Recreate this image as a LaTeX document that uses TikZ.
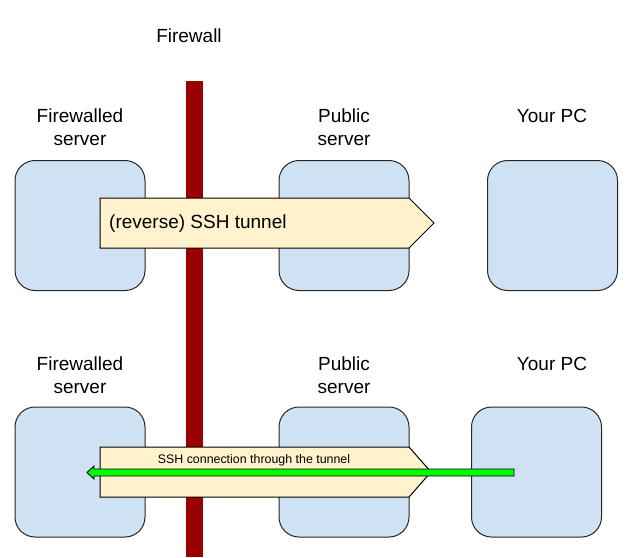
\documentclass[tikz,border=0pt]{standalone}
\usepackage{fontspec}
\setmainfont{Liberation Sans}
\usepackage[HTML]{xcolor}
\usetikzlibrary{positioning}
\definecolor{hostblue}{HTML}{CFE2F3}
\definecolor{tunnelcream}{HTML}{FFF2CC}
\definecolor{wallred}{HTML}{990000}
\definecolor{linkgreen}{HTML}{00FF00}

\begin{document}
\begin{tikzpicture}[x=1pt, y=-1pt,
  hostbox/.style={draw=black!85, fill=hostblue, rounded corners=20pt, line width=1pt, minimum width=130pt, minimum height=130pt, inner sep=0pt},
  hostlabel/.style={font=\fontsize{19}{23}\selectfont, align=center, inner sep=0pt},
  tunnelshape/.style={draw=black, fill=tunnelcream, line width=1pt},
  linkarrow/.style={draw=black, fill=linkgreen, line width=0.9pt, line join=miter}]

\useasboundingbox (0,0) rectangle (636,557);

% --- Firewall ---
\node[fill=wallred, minimum width=17pt, minimum height=476pt, inner sep=0pt] (wall) at (194.5,319) {};
\node[hostlabel] (walllabel) at (189,36) {Firewall};

% --- Top row: setting up the tunnel ---
\node[hostbox] (fwtop) at (80,225.5) {};
\node[hostbox] (pubtop) at (344,225.5) {};
\node[hostbox] (pctop) at (552.5,225.5) {};

\node[hostlabel] (fwtoplabel) at (80,127.5) {Firewalled\\server};
\node[hostlabel] (pubtoplabel) at (344,127.5) {Public\\server};
\node[hostlabel] (pctoplabel) at (552,116) {Your PC};

% tunnel pointing towards the public server
\draw[tunnelshape] (100,198) -- (409,198) -- (434,223) -- (409,248) -- (100,248) -- cycle;
\node[hostlabel, anchor=west] (tuntoplabel) at (109,224) {(reverse) SSH tunnel};

% --- Bottom row: connecting through the tunnel ---
\node[hostbox] (fwbot) at (80,472) {};
\node[hostbox] (pubbot) at (344,472) {};
\node[hostbox] (pcbot) at (536.5,472) {};

\node[hostlabel] (fwbotlabel) at (80,375.5) {Firewalled\\server};
\node[hostlabel] (pubbotlabel) at (344,375.5) {Public\\server};
\node[hostlabel] (pcbotlabel) at (552,364) {Your PC};

\draw[tunnelshape] (100,447) -- (409,447) -- (431,472) -- (409,497) -- (100,497) -- cycle;
\node[inner sep=0pt, font=\fontsize{12.4}{14}\selectfont] (tunbotlabel) at (254,460) {SSH connection through the tunnel};

% green connection from the PC back to the firewalled server
\coordinate (linkstart) at (514,472.5);
\coordinate (linkend) at (87,472.5);
\draw[linkarrow] (linkstart) ++(0,-3.5) -- ++(-420,0) -- ++(0,-3) -- (linkend) -- ++(7,6.5) -- ++(0,-3) -- ++(420,0) -- cycle;

\end{tikzpicture}
\end{document}
